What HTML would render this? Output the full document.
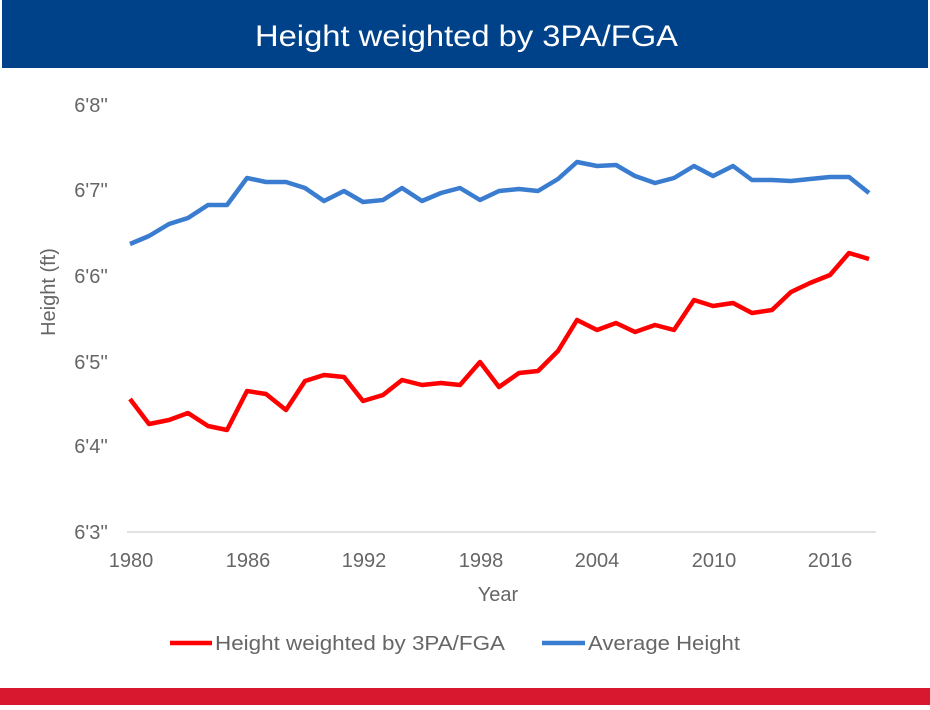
<!DOCTYPE html>
<html><head><meta charset="utf-8"><style>
body{margin:0;background:#fff;width:930px;height:705px;overflow:hidden;font-family:"Liberation Sans",sans-serif}
</style></head><body>
<svg width="930" height="705" xmlns="http://www.w3.org/2000/svg" font-family="Liberation Sans, sans-serif">
<rect x="0" y="0" width="930" height="705" fill="#fff"/>
<rect x="2" y="0" width="926" height="68" fill="#00428a"/>
<text x="255" y="46" fill="#fff" font-size="30" textLength="423" lengthAdjust="spacingAndGlyphs">Height weighted by 3PA/FGA</text>
<rect x="0" y="688" width="930" height="17" fill="#d7182f"/>
<line x1="127" y1="532" x2="876" y2="532" stroke="#d9d9d9" stroke-width="1.5"/>
<g fill="#666" font-size="20" text-anchor="end">
<text x="108" y="112">6'8''</text>
<text x="108" y="197">6'7''</text>
<text x="108" y="283">6'6''</text>
<text x="108" y="369">6'5''</text>
<text x="108" y="453">6'4''</text>
<text x="108" y="539">6'3''</text>
</g>
<g fill="#666" font-size="20" text-anchor="middle">
<text x="131" y="567">1980</text>
<text x="248" y="567">1986</text>
<text x="364" y="567">1992</text>
<text x="481" y="567">1998</text>
<text x="597" y="567">2004</text>
<text x="714" y="567">2010</text>
<text x="830" y="567">2016</text>
<text x="498" y="601">Year</text>
<text transform="translate(55,292) rotate(-90)">Height (ft)</text>
</g>
<polyline fill="none" stroke="#3a7dd0" stroke-width="4.5" stroke-linejoin="round" points="
130,244 149,236 169,224 188,218 208,205 227,205 247,178 266,182 286,182 305,188 324,201 344,191 363,202 383,200 402,188 422,201 441,193 460,188 480,200 499,191 519,189 538,191 558,179 577,162 597,166 616,165 635,176 655,183 674,178 694,166 713,176 733,166 752,180 772,180 791,181 810,179 830,177 849,177 869,193"/>
<polyline fill="none" stroke="#ff0000" stroke-width="4.5" stroke-linejoin="round" points="
130,399 149,424 169,420 188,413 208,426 227,430 247,391 266,394 286,410 305,381 324,375 344,377 363,401 383,395 402,380 422,385 441,383 460,385 480,362 499,387 519,373 538,371 558,351 577,320 597,330 616,323 635,332 655,325 674,330 694,300 713,306 733,303 752,313 772,310 791,292 810,283 830,275 849,253 869,259"/>
<line x1="170" y1="643" x2="212" y2="643" stroke="#ff0000" stroke-width="4.5"/>
<text x="215" y="650" fill="#666" font-size="20" textLength="290" lengthAdjust="spacingAndGlyphs">Height weighted by 3PA/FGA</text>
<line x1="542" y1="643" x2="585" y2="643" stroke="#3a7dd0" stroke-width="4.5"/>
<text x="588" y="650" fill="#666" font-size="20" textLength="152" lengthAdjust="spacingAndGlyphs">Average Height</text>
</svg>
</body></html>
